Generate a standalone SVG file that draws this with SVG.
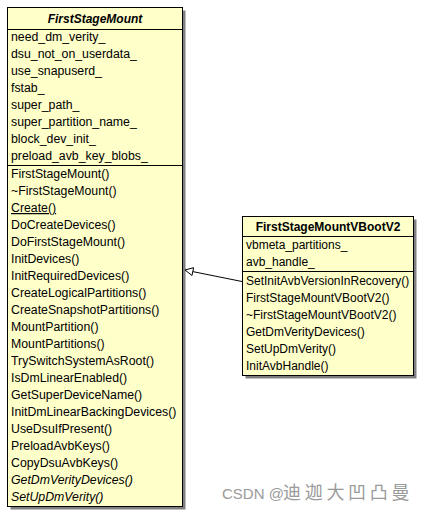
<svg xmlns="http://www.w3.org/2000/svg" width="427" height="519" viewBox="0 0 427 519">
<style>
.box{fill:#FFFFCA;stroke:#000;stroke-width:1}
.shadow{fill:#808080;stroke:none}
.sep{stroke:#000;stroke-width:1}
text{font-family:"Liberation Sans",Arial,sans-serif;font-size:12.3px;fill:#000}
.title{font-weight:bold;text-anchor:middle;font-size:12px}
.it{font-style:italic}
.sm{font-size:12px}
.wm{font-family:"Liberation Sans","Noto Sans CJK SC",sans-serif;font-size:15px;fill:#9a9a9a}
</style>
<rect width="427" height="519" fill="#fff"/>
<g id="FirstStageMount">
<rect class="shadow" x="10.5" y="10.5" width="175" height="499"/>
<rect class="box" x="7.5" y="7.5" width="175" height="499"/>
<line class="sep" x1="7.5" y1="29.5" x2="182.5" y2="29.5"/>
<line class="sep" x1="7.5" y1="165.5" x2="182.5" y2="165.5"/>
<text class="title it" x="95" y="22.5">FirstStageMount</text>
<text x="11" y="41">need_dm_verity_</text>
<text x="11" y="58">dsu_not_on_userdata_</text>
<text x="11" y="75">use_snapuserd_</text>
<text x="11" y="92">fstab_</text>
<text x="11" y="109">super_path_</text>
<text x="11" y="126">super_partition_name_</text>
<text x="11" y="143">block_dev_init_</text>
<text x="11" y="160">preload_avb_key_blobs_</text>
<text x="11" y="178">FirstStageMount()</text>
<text x="11" y="195">~FirstStageMount()</text>
<text x="11" y="212" text-decoration="underline">Create()</text>
<text x="11" y="229">DoCreateDevices()</text>
<text x="11" y="246">DoFirstStageMount()</text>
<text x="11" y="263">InitDevices()</text>
<text x="11" y="280">InitRequiredDevices()</text>
<text x="11" y="297">CreateLogicalPartitions()</text>
<text x="11" y="314">CreateSnapshotPartitions()</text>
<text x="11" y="331">MountPartition()</text>
<text x="11" y="348">MountPartitions()</text>
<text x="11" y="365">TrySwitchSystemAsRoot()</text>
<text x="11" y="382">IsDmLinearEnabled()</text>
<text x="11" y="399">GetSuperDeviceName()</text>
<text x="11" y="416">InitDmLinearBackingDevices()</text>
<text x="11" y="433">UseDsuIfPresent()</text>
<text x="11" y="450">PreloadAvbKeys()</text>
<text x="11" y="467">CopyDsuAvbKeys()</text>
<text x="11" y="484" class="it">GetDmVerityDevices()</text>
<text x="11" y="501" class="it">SetUpDmVerity()</text>
</g>
<g id="FirstStageMountVBootV2">
<rect class="shadow" x="245.5" y="219.5" width="171" height="159"/>
<rect class="box" x="242.5" y="216.5" width="171" height="159"/>
<line class="sep" x1="242.5" y1="236.5" x2="413.5" y2="236.5"/>
<line class="sep" x1="242.5" y1="271.5" x2="413.5" y2="271.5"/>
<text class="title" x="328" y="230.5">FirstStageMountVBootV2</text>
<text class="sm" x="246" y="248.5">vbmeta_partitions_</text>
<text class="sm" x="246" y="265.5">avb_handle_</text>
<text class="sm" x="246" y="285">SetInitAvbVersionInRecovery()</text>
<text class="sm" x="246" y="302">FirstStageMountVBootV2()</text>
<text class="sm" x="246" y="319">~FirstStageMountVBootV2()</text>
<text class="sm" x="246" y="336">GetDmVerityDevices()</text>
<text class="sm" x="246" y="353">SetUpDmVerity()</text>
<text class="sm" x="246" y="370">InitAvbHandle()</text>
</g>
<g id="connectors">
<line x1="242" y1="281.5" x2="192.8" y2="271.6" stroke="#000" stroke-width="1"/>
<polygon points="185,270 193.6,267.7 192,275.5" fill="#fff" stroke="#000" stroke-width="1"/>
</g>
<text class="wm" x="222" y="499">CSDN @<tspan x="283" font-size="18" letter-spacing="3.7">迪迦大凹凸曼</tspan></text>
</svg>
